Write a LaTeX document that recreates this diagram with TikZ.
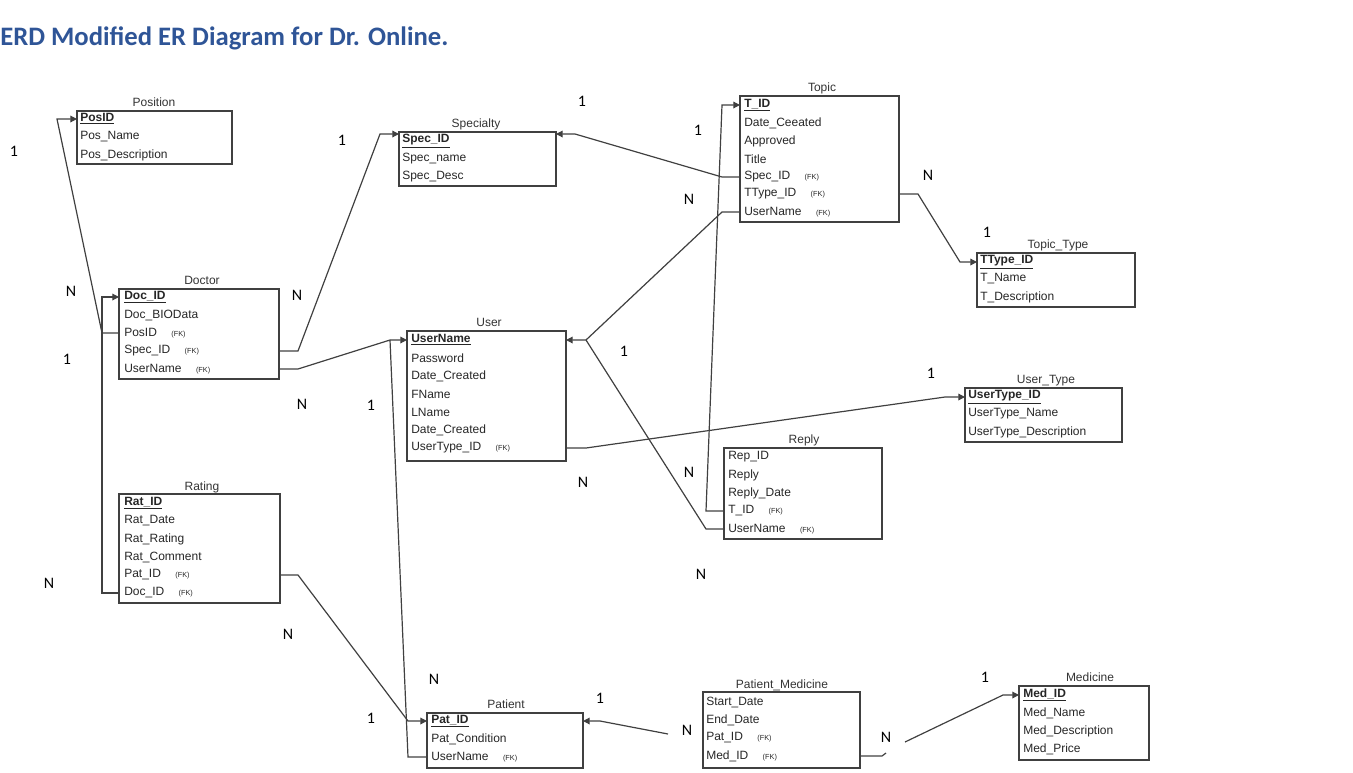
\documentclass[tikz,border=0pt]{standalone}
\usepackage{fontspec}
\setmainfont{Liberation Sans}
\newfontfamily\carl{Carlito}
\usetikzlibrary{arrows.meta}
\definecolor{ttl}{HTML}{2F5597}
\tikzset{
  tbl/.style={draw=black!75,line width=0.9pt},
  row/.style={anchor=west,inner sep=0pt,font=\fontsize{9}{10}\selectfont,text=black!85},
  ttlab/.style={anchor=base,inner sep=0pt,font=\fontsize{9}{10}\selectfont,text=black!80},
  lab/.style={inner sep=1pt,font=\carl\fontsize{12}{13}\selectfont},
  con/.style={draw=black!75,line width=0.9pt},
  arr/.style={con,-{Triangle[length=5pt,width=5pt]}}
}
\newcommand\fk{\hspace{1.2em}{\fontsize{5.5}{6}\selectfont(FK)}}
\newcommand\pk[1]{\underline{\textbf{#1}}}
\begin{document}
\begin{tikzpicture}[x=0.75pt,y=-0.75pt]
\useasboundingbox (0,0) rectangle (1353,772);
\node[anchor=west,inner sep=0pt,text=ttl,font=\carl\bfseries\fontsize{20}{22}\selectfont] (title) at (0,38) {ERD Modified ER Diagram for Dr. Online.};
% Position
\draw[tbl] (77,111) rectangle (232,164);
\node[ttlab] (tPos) at (154,106) {Position};
\node[row] (pos1) at (80,119) {\pk{PosID}};
\node[row] (pos2) at (80,137) {Pos\_Name};
\node[row] (pos3) at (80,155) {Pos\_Description};
% Specialty
\draw[tbl] (399,132) rectangle (556,186);
\node[ttlab] (tSpec) at (476,127) {Specialty};
\node[row] (sp1) at (402,141) {\pk{Spec\_ID}};
\node[row] (sp2) at (402,159) {Spec\_name};
\node[row] (sp3) at (402,177) {Spec\_Desc};
% Topic
\draw[tbl] (740,96) rectangle (899,222);
\node[ttlab] (tTop) at (822,91) {Topic};
\node[row] (to1) at (744,105) {\pk{T\_ID}};
\node[row] (to2) at (744,123) {Date\_Ceeated};
\node[row] (to3) at (744,141) {Approved};
\node[row] (to4) at (744,159) {Title};
\node[row] (to5) at (744,177) {Spec\_ID\fk};
\node[row] (to6) at (744,194) {TType\_ID\fk};
\node[row] (to7) at (744,212) {UserName\fk};
% Topic_Type
\draw[tbl] (977,253) rectangle (1135,307);
\node[ttlab] (tTT) at (1058,248) {Topic\_Type};
\node[row] (tt1) at (980,262) {\pk{TType\_ID}};
\node[row] (tt2) at (980,279) {T\_Name};
\node[row] (tt3) at (980,297) {T\_Description};
% Doctor
\draw[tbl] (119,289) rectangle (279,379);
\node[ttlab] (tDoc) at (202,284) {Doctor};
\node[row] (do1) at (124,297) {\pk{Doc\_ID}};
\node[row] (do2) at (124,315) {Doc\_BIOData};
\node[row] (do3) at (124,333) {PosID\fk};
\node[row] (do4) at (124,351) {Spec\_ID\fk};
\node[row] (do5) at (124,369) {UserName\fk};
% User
\draw[tbl] (407,331) rectangle (566,461);
\node[ttlab] (tUser) at (489,326) {User};
\node[row] (us1) at (411,340) {\pk{UserName}};
\node[row] (us2) at (411,358) {Password};
\node[row] (us3) at (411,376) {Date\_Created};
\node[row] (us4) at (411,394) {FName};
\node[row] (us5) at (411,412) {LName};
\node[row] (us6) at (411,430) {Date\_Created};
\node[row] (us7) at (411,448) {UserType\_ID\fk};
% User_Type
\draw[tbl] (965,388) rectangle (1122,442);
\node[ttlab] (tUT) at (1046,383) {User\_Type};
\node[row] (ut1) at (968,397) {\pk{UserType\_ID}};
\node[row] (ut2) at (968,414) {UserType\_Name};
\node[row] (ut3) at (968,432) {UserType\_Description};
% Reply
\draw[tbl] (724,448) rectangle (882,539);
\node[ttlab] (tRep) at (804,443) {Reply};
\node[row] (re1) at (728,457) {Rep\_ID};
\node[row] (re2) at (728,475) {Reply};
\node[row] (re3) at (728,493) {Reply\_Date};
\node[row] (re4) at (728,511) {T\_ID\fk};
\node[row] (re5) at (728,529) {UserName\fk};
% Rating
\draw[tbl] (119,494) rectangle (280,603);
\node[ttlab] (tRat) at (202,490) {Rating};
\node[row] (ra1) at (124,503) {\pk{Rat\_ID}};
\node[row] (ra2) at (124,521) {Rat\_Date};
\node[row] (ra3) at (124,539) {Rat\_Rating};
\node[row] (ra4) at (124,557) {Rat\_Comment};
\node[row] (ra5) at (124,575) {Pat\_ID\fk};
\node[row] (ra6) at (124,593) {Doc\_ID\fk};
% Patient
\draw[tbl] (427,713) rectangle (583,768);
\node[ttlab] (tPat) at (506,708) {Patient};
\node[row] (pa1) at (431,721) {\pk{Pat\_ID}};
\node[row] (pa2) at (431,739) {Pat\_Condition};
\node[row] (pa3) at (431,757) {UserName\fk};
% Patient_Medicine
\draw[tbl] (703,692) rectangle (860,768);
\node[ttlab] (tPM) at (782,688) {Patient\_Medicine};
\node[row] (pm1) at (706,702) {Start\_Date};
\node[row] (pm2) at (706,720) {End\_Date};
\node[row] (pm3) at (706,738) {Pat\_ID\fk};
\node[row] (pm4) at (706,756) {Med\_ID\fk};
% Medicine
\draw[tbl] (1019,686) rectangle (1149,760);
\node[ttlab] (tMed) at (1090,681) {Medicine};
\node[row] (me1) at (1023,695) {\pk{Med\_ID}};
\node[row] (me2) at (1023,713) {Med\_Name};
\node[row] (me3) at (1023,731) {Med\_Description};
\node[row] (me4) at (1023,749) {Med\_Price};
% connectors
\coordinate (cPos) at (77,119);
\coordinate (cDocL) at (119,297);
\coordinate (cDocPos) at (119,333);
\coordinate (cRatDoc) at (119,593);
\draw[arr] (cDocPos) -- (102,333) -- (57,119) -- (cPos);
\draw[arr] (cRatDoc) -- (102,593) -- (102,297) -- (cDocL);
\coordinate (cSpecL) at (399,134);
\coordinate (cSpecR) at (556,134);
\draw[arr] (279,351) -- (298,351) -- (380,134) -- (cSpecL);
\draw[arr] (740,177) -- (722,177) -- (575,134) -- (cSpecR);
\coordinate (cUserL) at (407,340);
\coordinate (cUserR) at (566,340);
\draw[arr] (279,369) -- (298,369) -- (390,340) -- (cUserL);
\draw[arr] (740,212) -- (722,212) -- (586,340) -- (cUserR);
\draw[con] (724,529) -- (706,529) -- (586,340);
\coordinate (cTopL) at (740,105);
\draw[arr] (724,511) -- (706,511) -- (722,105) -- (cTopL);
\coordinate (cTT) at (977,262);
\draw[arr] (899,194) -- (918,194) -- (960,262) -- (cTT);
\coordinate (cUT) at (965,397);
\draw[arr] (566,448) -- (586,448) -- (945,397) -- (cUT);
\coordinate (cPatL) at (427,721);
\draw[arr] (280,575) -- (298,575) -- (408,721) -- (cPatL);
\draw[con] (390,340) -- (408,757) -- (427,757);
\coordinate (cPatR) at (583,721);
\coordinate (cPMl) at (668,734);
\draw[arr] (cPMl) -- (600,721) -- (cPatR);
\coordinate (cMed) at (1019,695);
\draw[con] (860,756) -- (882,756) -- (886,753);
\draw[arr] (905,742) -- (1003,695) -- (cMed);
% labels
\node[lab,fill=white] (l1) at (14,151) {1};
\node[lab,fill=white] (l2) at (71,291) {N};
\node[lab] (l3) at (67,359) {1};
\node[lab] (l4) at (49,583) {N};
\node[lab] (l5) at (342,140) {1};
\node[lab,fill=white] (l6) at (297,295) {N};
\node[lab] (l7) at (302,404) {N};
\node[lab] (l8) at (371,405) {1};
\node[lab] (l9) at (288,634) {N};
\node[lab] (l10) at (434,679) {N};
\node[lab] (l11) at (371,718) {1};
\node[lab] (l12) at (582,101) {1};
\node[lab] (l13) at (698,130) {1};
\node[lab] (l14) at (689,199) {N};
\node[lab] (l15) at (928,175) {N};
\node[lab] (l16) at (987,232) {1};
\node[lab] (l17) at (624,351) {1};
\node[lab] (l18) at (931,373) {1};
\node[lab] (l19) at (583,482) {N};
\node[lab,fill=white] (l20) at (689,472) {N};
\node[lab] (l21) at (701,574) {N};
\node[lab] (l22) at (600,698) {1};
\node[lab] (l23) at (687,730) {N};
\node[lab] (l24) at (886,737) {N};
\node[lab] (l25) at (985,677) {1};
\end{tikzpicture}
\end{document}
